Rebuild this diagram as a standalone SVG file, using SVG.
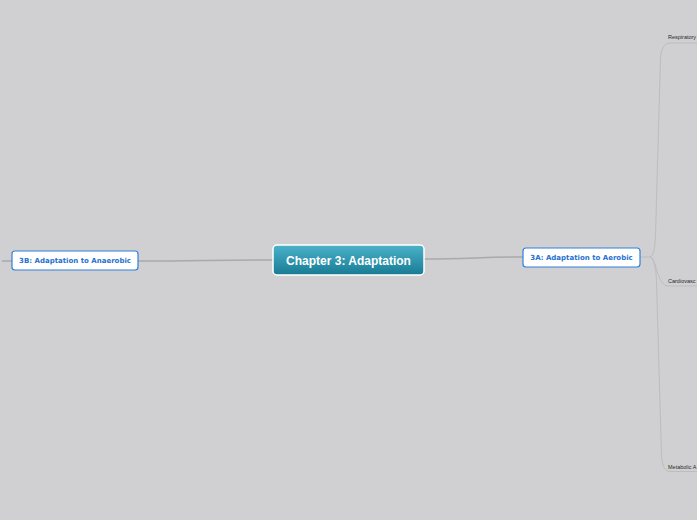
<svg xmlns="http://www.w3.org/2000/svg" width="697" height="520" viewBox="0 0 697 520">
<defs>
<linearGradient id="g" x1="0" y1="0" x2="0" y2="1">
<stop offset="0" stop-color="#4bb2c9"/>
<stop offset="1" stop-color="#177b94"/>
</linearGradient>
<style>
.main{fill:none;stroke:#a9a9ab;stroke-width:1.5}
.sub{fill:none;stroke:#bdbdbf;stroke-width:1}
.box{fill:#ffffff;stroke:#2f80dc;stroke-width:1.2}
.btxt{font-family:"DejaVu Sans",sans-serif;font-size:7px;font-weight:bold;fill:#1f6fd0;text-anchor:middle}
.ltxt{font-family:"Liberation Sans",Arial,sans-serif;font-size:5.5px;fill:#2a2a2a}
</style>
</defs>
<rect width="697" height="520" fill="#d0d0d2"/>
<g id="connectors">
<path class="main" d="M2,261 L138,261 C200,261 210,260 273,260"/>
<path class="main" d="M424,259 C470,259 480,257 523,257"/>
<path class="sub" d="M640,257 L650,257 Q655,256 655.5,235 L660.5,58 Q661.5,43 670,43 L697,43"/>
<path class="sub" d="M650,257 C656,257 657,286 668,286 L697,286"/>
<path class="sub" d="M650,257 Q656,259 656.5,282 L661.5,456 Q662.5,471.5 670,471.5 L697,471.5"/>
</g>
<g id="center">
<rect x="273" y="245" width="151" height="30" rx="4" fill="url(#g)" stroke="#ffffff" stroke-width="1.5"/>
<text x="348.5" y="264.5" font-family="Liberation Sans, Arial, sans-serif" font-size="12" font-weight="bold" fill="#ffffff" text-anchor="middle">Chapter 3: Adaptation</text>
</g>
<g id="n3A">
<rect class="box" x="523" y="248" width="117" height="19" rx="3"/>
<text class="btxt" x="581.5" y="260">3A: Adaptation to Aerobic</text>
</g>
<g id="n3B">
<rect class="box" x="12" y="251" width="126" height="19" rx="3"/>
<text class="btxt" x="75" y="263">3B: Adaptation to Anaerobic</text>
</g>
<g id="respiratory">
<text class="ltxt" x="668" y="39">Respiratory</text>
</g>
<g id="cardio">
<text class="ltxt" x="668" y="283">Cardiovasc</text>
</g>
<g id="metabolic">
<text class="ltxt" x="668" y="469">Metabolic A</text>
</g>
</svg>
